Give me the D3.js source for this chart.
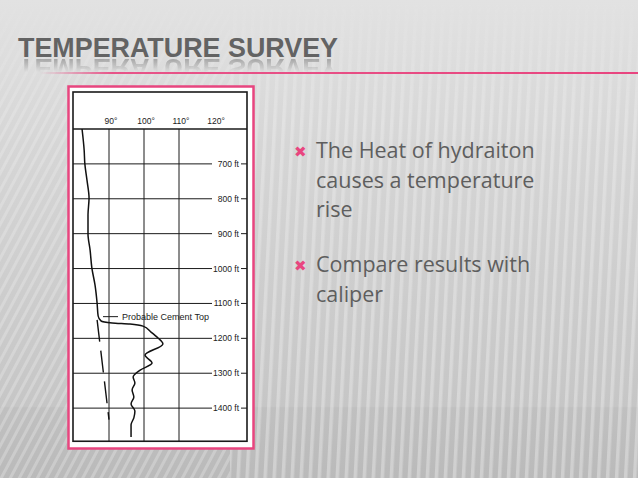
<!DOCTYPE html>
<html><head><meta charset="utf-8">
<script src="https://cdn.jsdelivr.net/npm/d3@7"></script>
<style>html,body{margin:0;padding:0;background:#d0d0d0;}svg{display:block;}</style>
</head><body>
<script>
// ---- data ----
const title = "TEMPERATURE SURVEY";
const tempTicks = [90, 100, 110, 120];
const tempGridLines = [90, 100, 110];
const depthTicks = [700, 800, 900, 1000, 1100, 1200, 1300, 1400];
const depthLabels = ["700 ft","800 ft","900 ft","1000 ft","1100 ft","1200 ft","1300 ft","1400 ft"];
// temperature log (°F) vs depth (ft)
const logDepth = [600,660,700,746,798,846,901,947,998,1047,1099,1136,1150,1156,1159,1165,1182,1199,1216,1248,1271,1291,1311,1328,1348,1368,1388,1408,1428,1448,1483];
const logTemp  = [82.3,82.9,83.1,83.7,84.3,84.0,84.0,84.6,85.1,86.0,86.6,86.9,87.7,90.9,96.0,99.7,102.0,104.0,105.4,100.3,102.3,98.9,96.9,97.4,96.6,97.1,96.3,97.4,97.1,96.3,96.3];
// extrapolated baseline (dashed)
const baseDepth = [1147, 1433];
const baseTemp = [86.6, 90.0];
const annotation = {text: "Probable Cement Top", depth: 1135};
const bullets = [
  ["The Heat of hydraiton", "causes a temperature", "rise"],
  ["Compare results with", "caliper"]
];

const W = 638, H = 478;
const svg = d3.select("body").append("svg").attr("width", W).attr("height", H)
  .attr("xmlns:xlink","http://www.w3.org/1999/xlink");
const defs = svg.append("defs");

// ---- background ----
const bg = defs.append("linearGradient").attr("id","bgGrad").attr("x1",0).attr("y1",0).attr("x2",0).attr("y2",1);
bg.append("stop").attr("offset","0").attr("stop-color","#e2e2e2");
bg.append("stop").attr("offset","0.3").attr("stop-color","#d6d6d6");
bg.append("stop").attr("offset","0.85").attr("stop-color","#c6c6c6");
bg.append("stop").attr("offset","0.853").attr("stop-color","#c0c0c0");
bg.append("stop").attr("offset","1").attr("stop-color","#bababa");
svg.append("rect").attr("width",W).attr("height",H).attr("fill","url(#bgGrad)");

const pv = defs.append("pattern").attr("id","vstripe").attr("patternUnits","userSpaceOnUse")
  .attr("width",9).attr("height",9).attr("patternTransform","rotate(3)");
pv.append("rect").attr("x",0).attr("y",0).attr("width",3.5).attr("height",9).attr("fill","#ffffff");
const pd = defs.append("pattern").attr("id","dstripe").attr("patternUnits","userSpaceOnUse")
  .attr("width",8).attr("height",8).attr("patternTransform","rotate(28)");
pd.append("rect").attr("x",0).attr("y",0).attr("width",3).attr("height",8).attr("fill","#ffffff");

const mg = defs.append("linearGradient").attr("id","stripeFade").attr("x1",0).attr("y1",0).attr("x2",0).attr("y2",1);
mg.append("stop").attr("offset","0").attr("stop-color","#fff").attr("stop-opacity",0.0);
mg.append("stop").attr("offset","0.25").attr("stop-color","#fff").attr("stop-opacity",0.35);
mg.append("stop").attr("offset","1").attr("stop-color","#fff").attr("stop-opacity",0.45);
defs.append("mask").attr("id","fadeMask").append("rect").attr("width",W).attr("height",H).attr("fill","url(#stripeFade)");
svg.append("rect").attr("x",230).attr("y",0).attr("width",W-230).attr("height",H)
  .attr("fill","url(#vstripe)").attr("mask","url(#fadeMask)").attr("opacity",0.7);
svg.append("rect").attr("x",0).attr("y",0).attr("width",230).attr("height",H)
  .attr("fill","url(#dstripe)").attr("mask","url(#fadeMask)").attr("opacity",0.55);

// ---- title ----
defs.append("text").attr("id","titleText").attr("x",18).attr("y",57).attr("textLength",320).attr("lengthAdjust","spacingAndGlyphs")
  .attr("font-family","Liberation Sans, Arial, sans-serif").attr("font-size",28).attr("font-weight","bold")
  .text(title);
svg.append("use").attr("href","#titleText").attr("fill","#636363");
const rg = defs.append("linearGradient").attr("id","reflGrad").attr("x1",0).attr("y1",0).attr("x2",0).attr("y2",1);
rg.append("stop").attr("offset","0").attr("stop-color","#fff").attr("stop-opacity",0.55);
rg.append("stop").attr("offset","0.5").attr("stop-color","#fff").attr("stop-opacity",0);
defs.append("mask").attr("id","reflMask").attr("maskUnits","userSpaceOnUse")
  .attr("x",0).attr("y",57).attr("width",400).attr("height",30)
  .append("rect").attr("x",0).attr("y",57).attr("width",400).attr("height",30).attr("fill","url(#reflGrad)");
svg.append("g").attr("mask","url(#reflMask)").append("use").attr("href","#titleText")
  .attr("transform","translate(0,116) scale(1,-1)").attr("fill","#6a6a6a");

// pink rule
const pg = defs.append("linearGradient").attr("id","pinkGrad").attr("x1",0).attr("y1",0).attr("x2",1).attr("y2",0);
pg.append("stop").attr("offset","0").attr("stop-color","#e8457f").attr("stop-opacity",0);
pg.append("stop").attr("offset","0.12").attr("stop-color","#e8457f").attr("stop-opacity",0.9);
pg.append("stop").attr("offset","1").attr("stop-color","#e8457f").attr("stop-opacity",1);
svg.append("rect").attr("x",40).attr("y",72).attr("width",W-40).attr("height",2).attr("fill","url(#pinkGrad)");

// ---- chart card ----
svg.append("rect").attr("x",68.5).attr("y",86.5).attr("width",185).attr("height",362)
  .attr("fill","#ffffff").attr("stroke","#e8457f").attr("stroke-width",2.5);

const x = d3.scaleLinear().domain([80, 130]).range([74, 249]);
const y = d3.scaleLinear().domain([600, 1500]).range([129, 443]);
const frameL = 73, frameR = 247, frameT = 92, frameB = y(1495);
const chart = svg.append("g");
const ink = "#1a1a1a";
chart.append("rect").attr("x",frameL).attr("y",frameT).attr("width",frameR-frameL).attr("height",frameB-frameT)
  .attr("fill","none").attr("stroke",ink).attr("stroke-width",1.6);
// header line
chart.append("line").attr("x1",frameL).attr("x2",frameR).attr("y1",y(600)).attr("y2",y(600))
  .attr("stroke",ink).attr("stroke-width",1.6);

// vertical grid
chart.selectAll(".vg").data(tempGridLines).join("line")
  .attr("x1",d=>x(d)).attr("x2",d=>x(d)).attr("y1",y(600)).attr("y2",frameB)
  .attr("stroke",ink).attr("stroke-width",1);
chart.selectAll(".tl").data(tempTicks).join("text")
  .attr("x",d=>x(d)+2).attr("y",y(600)-5).attr("text-anchor","middle")
  .attr("font-family","Liberation Sans, Arial, sans-serif").attr("font-size",8.5).attr("fill","#222")
  .text(d=>d+"°");

// horizontal grid
chart.selectAll(".hg").data(depthTicks).join("line")
  .attr("x1",frameL).attr("x2",212).attr("y1",d=>y(d)).attr("y2",d=>y(d))
  .attr("stroke",ink).attr("stroke-width",1);
chart.selectAll(".ht").data(depthTicks).join("line")
  .attr("x1",241).attr("x2",frameR).attr("y1",d=>y(d)).attr("y2",d=>y(d))
  .attr("stroke",ink).attr("stroke-width",1);
chart.selectAll(".dl").data(depthTicks).join("text")
  .attr("x",239).attr("y",d=>y(d)+3).attr("text-anchor","end")
  .attr("font-family","Liberation Sans, Arial, sans-serif").attr("font-size",8.5).attr("fill","#222")
  .text((d,i)=>depthLabels[i]);

// temperature log
const logPts = logDepth.map((d,i)=>({d, t: logTemp[i]}));
const line = d3.line().x(p=>x(p.t)).y(p=>y(p.d)).curve(d3.curveMonotoneY);
chart.append("path").attr("d",line(logPts)).attr("fill","none").attr("stroke","#111").attr("stroke-width",1.5);
// dashed baseline
const basePts = baseDepth.map((d,i)=>({d, t: baseTemp[i]}));
chart.append("path").attr("d",d3.line().x(p=>x(p.t)).y(p=>y(p.d))(basePts))
  .attr("fill","none").attr("stroke","#111").attr("stroke-width",1.4).attr("stroke-dasharray","22,9");

// annotation
const ay = y(annotation.depth) + 1;
chart.append("line").attr("x1",103).attr("x2",118).attr("y1",ay).attr("y2",ay).attr("stroke",ink).attr("stroke-width",1);
chart.append("text").attr("x",122).attr("y",ay+3).attr("font-family","Liberation Sans, Arial, sans-serif")
  .attr("font-size",9).attr("fill","#222").text(annotation.text);

// ---- bullets ----
const bg2 = svg.append("g").attr("font-family","Open Sans, Liberation Sans, sans-serif").attr("font-size",21.5).attr("fill","#5e5e5e");
const starts = [158, 272];
bullets.forEach((lines, bi) => {
  svg.append("text").attr("x",294).attr("y",starts[bi]-1).attr("font-family","DejaVu Sans, sans-serif")
    .attr("font-size",15).attr("fill","#e8457f").text("✖");
  lines.forEach((ln, li) => {
    bg2.append("text").attr("x",316).attr("y",starts[bi] + li*29.5).text(ln);
  });
});
</script>
</body></html>
